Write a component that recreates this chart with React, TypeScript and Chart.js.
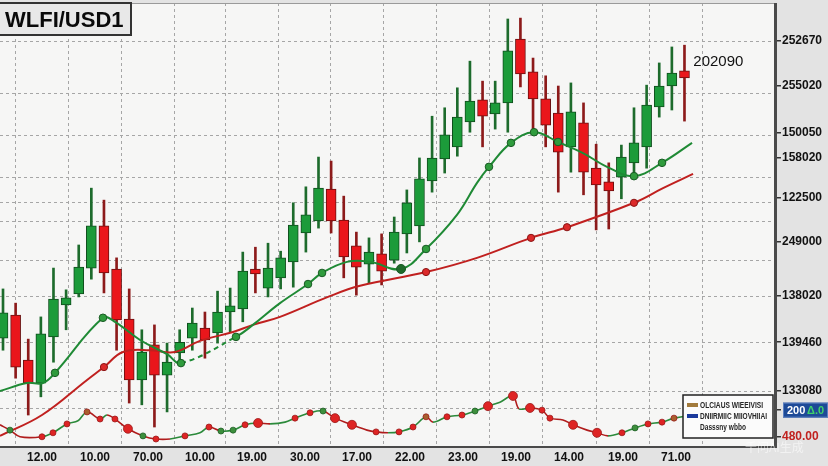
import React, { useEffect, useRef } from 'react';
import { Chart, registerables } from 'chart.js';

Chart.register(...registerables);

// ---- candle data (index 0..54) ----
const opens = [24.5, 29.7, 19.6, 14.4, 24.8, 32.0, 34.5, 40.3, 49.8, 40.1, 28.8, 15.1, 23.0, 16.2, 21.2, 24.5, 26.8, 25.7, 30.4, 31.1, 40.1, 35.8, 38.1, 41.7, 48.2, 50.9, 58.1, 51.1, 45.3, 41.2, 43.5, 42.1, 48.0, 49.8, 59.9, 64.9, 67.6, 73.2, 78.2, 75.0, 77.5, 91.9, 84.5, 78.4, 75.2, 67.6, 73.0, 62.8, 59.7, 60.8, 64.0, 67.6, 76.6, 81.3, 84.7];
const highs = [35.6, 32.4, 24.3, 29.3, 40.3, 35.4, 45.5, 58.3, 55.6, 42.6, 35.6, 26.4, 27.5, 23.4, 26.4, 31.3, 30.4, 35.1, 35.8, 43.9, 45.0, 45.9, 44.1, 55.0, 58.6, 65.3, 64.4, 56.5, 48.4, 47.1, 48.0, 51.8, 57.9, 65.1, 74.5, 76.4, 80.9, 86.9, 82.4, 82.4, 96.4, 96.6, 87.6, 83.6, 81.3, 82.0, 77.5, 68.2, 64.0, 68.0, 76.4, 81.5, 86.5, 90.1, 90.5];
const lows = [21.8, 15.5, 7.2, 11.3, 19.1, 26.4, 33.8, 37.8, 34.7, 21.8, 9.9, 9.5, 4.5, 7.9, 18.9, 21.8, 20.0, 23.4, 25.9, 28.2, 34.7, 33.8, 35.6, 36.0, 43.9, 49.3, 48.2, 38.1, 34.2, 36.9, 36.5, 41.4, 43.7, 46.2, 57.4, 61.7, 65.5, 70.9, 67.6, 71.6, 70.9, 81.1, 71.4, 67.6, 57.4, 61.9, 56.8, 48.9, 49.1, 55.9, 61.7, 62.8, 74.3, 75.9, 73.4];
const closes = [30.2, 18.0, 14.4, 25.5, 33.3, 33.6, 40.5, 49.8, 39.2, 28.6, 15.1, 21.4, 16.2, 19.1, 23.6, 27.9, 24.1, 30.4, 31.8, 39.6, 39.0, 40.3, 42.6, 50.0, 52.3, 58.3, 50.9, 42.8, 40.5, 43.9, 39.6, 48.4, 55.0, 60.4, 65.1, 70.3, 74.3, 77.9, 74.5, 77.5, 89.2, 84.0, 78.4, 72.5, 66.4, 75.5, 61.9, 59.0, 57.7, 65.3, 68.5, 77.0, 81.3, 84.2, 83.1];

// ---- fast (green) moving average ----
const greenMaX = [-0.24, 1.9, 3.17, 4.12, 7.92, 8.87, 10.86, 13.0, 14.1, 18.46, 19.8, 21.95, 24.17, 25.28, 27.26, 29.08, 31.54, 33.52, 35.97, 37.56, 38.51, 40.25, 42.08, 43.98, 45.96, 47.86, 50.0, 52.22, 54.6];
const greenMaY = [12.6, 14.4, 14.4, 16.7, 29.1, 28.2, 24.1, 20.9, 18.9, 24.8, 27.5, 32.4, 36.7, 39.2, 41.7, 41.7, 40.1, 44.6, 52.3, 59.5, 63.1, 68.5, 70.9, 68.7, 66.2, 63.1, 61.0, 64.0, 68.5];
const greenMaMarkers = [3, 4, 8, 9, 12, 13, 16, 17, 20, 21, 22, 23, 26, 27];

// ---- slow (red) moving average ----
const redMaX = [-0.24, 3.09, 6.66, 8.0, 9.51, 11.65, 13.63, 15.61, 18.23, 19.81, 21.95, 25.75, 28.29, 33.52, 37.56, 41.84, 44.69, 50.0, 52.3, 54.68];
const redMaY = [2.5, 7.2, 15.1, 18.0, 21.4, 21.8, 21.4, 23.9, 25.9, 27.5, 29.3, 33.8, 36.3, 39.4, 42.6, 47.1, 49.5, 55.0, 58.3, 61.5];
const redMaMarkers = [3, 13, 15, 16, 17];

// ---- lower oscillator ----
const oscX = [-0.24, 0.55, 1.35, 3.09, 3.96, 5.07, 5.94, 6.66, 7.69, 8.24, 8.87, 9.9, 11.09, 12.12, 13.23, 14.42, 15.61, 16.32, 17.27, 18.23, 19.18, 20.21, 21.16, 22.35, 23.14, 24.33, 25.36, 26.31, 27.65, 28.84, 29.56, 30.51, 31.38, 32.49, 33.52, 34.07, 35.18, 36.37, 37.4, 38.43, 39.38, 40.41, 40.89, 41.76, 42.71, 43.34, 44.37, 45.17, 46.28, 47.07, 47.94, 49.05, 50.08, 51.11, 52.22, 53.17, 55.5, 58.0];
const oscY = [5.0, 3.8, 2.3, 2.3, 3.2, 5.2, 5.9, 7.9, 6.3, 7.2, 6.3, 4.1, 2.5, 1.8, 1.8, 2.5, 3.2, 4.5, 3.6, 3.8, 5.0, 5.4, 5.2, 5.6, 6.5, 7.7, 8.1, 6.5, 5.0, 3.8, 3.4, 3.2, 3.4, 4.5, 6.8, 5.6, 6.8, 7.2, 8.1, 9.2, 10.1, 11.5, 8.6, 8.8, 8.3, 6.5, 6.1, 5.0, 3.8, 3.2, 2.5, 3.2, 4.3, 5.2, 5.6, 6.5, 7.5, 8.0];
const oscMarkers = [1, 3, 4, 5, 7, 8, 10, 11, 12, 13, 15, 17, 18, 19, 20, 21, 24, 25, 26, 27, 28, 30, 32, 33, 34, 36, 37, 38, 39, 41, 43, 44, 45, 47, 49, 51, 52, 53, 54, 55];
const oscBigMarkers = [11, 21, 27, 28, 39, 41, 43, 47, 49];
const oscGreenMarkers = [1, 12, 18, 19, 26, 38, 52];
const oscBrownMarkers = [7, 34, 55];

// ---- axes ----
const xTickPos = [3.09, 7.29, 11.49, 15.61, 19.73, 23.93, 28.05, 32.25, 36.45, 40.65, 44.85, 49.13, 53.33];
const xLabels = ['12.00', '10.00', '70.00', '10.00', '19.00', '30.00', '17.00', '22.00', '23.00', '19.00', '14.00', '19.00', '71.00'];
const gridLevels = [91.4, 79.7, 70.1, 60.8, 55.0, 50.9, 42.1, 33.8, 23.6, 12.4, 8.6];
const rightTickValues = [91.4, 81.3, 70.7, 65.1, 56.1, 46.2, 34.0, 23.6, 12.6, 8.3, 2.3];
const rightTickLabels = ['252670', '255020', '150050', '158020', '122500', '249000', '138020', '139460', '133080', '', '480.00'];
const boxTickIndex = 9;
const lastPriceText = '202090';

const FONT = "'Liberation Sans', Arial, sans-serif";

const GREEN_BODY = '#1c9b3a';
const GREEN_EDGE = '#0f4d1c';
const GREEN_WICK = '#1d6b2c';
const RED_BODY = '#ea161b';
const RED_EDGE = '#6a0f0f';
const RED_WICK = '#8c1a1a';

const overlayPlugin = {
  id: 'overlay',
  beforeDraw(chart: any) {
    const { ctx, chartArea: a, width, height } = chart;
    ctx.save();
    ctx.fillStyle = '#e3e3e3';
    ctx.fillRect(0, 0, width, height);
    ctx.fillStyle = '#f6f6f5';
    ctx.fillRect(a.left, a.top, a.right - a.left, a.bottom - a.top);
    ctx.restore();
  },
  afterDraw(chart: any) {
    const { ctx, chartArea: a } = chart;
    ctx.save();
    // frame
    ctx.strokeStyle = '#9a9a9a';
    ctx.lineWidth = 1;
    ctx.beginPath();
    ctx.moveTo(a.left, a.top + 0.5);
    ctx.lineTo(a.right, a.top + 0.5);
    ctx.stroke();
    ctx.strokeStyle = '#4a4a4a';
    ctx.lineWidth = 3;
    ctx.beginPath();
    ctx.moveTo(a.right - 0.5, a.top);
    ctx.lineTo(a.right - 0.5, a.bottom + 1);
    ctx.stroke();
    ctx.lineWidth = 2;
    ctx.beginPath();
    ctx.moveTo(a.left, a.bottom);
    ctx.lineTo(a.right, a.bottom);
    ctx.stroke();

    // title box
    ctx.fillStyle = '#e8e8e8';
    ctx.fillRect(0, 3, 131, 32);
    ctx.strokeStyle = '#333';
    ctx.lineWidth = 2;
    ctx.strokeRect(-1, 3, 132, 32);
    ctx.fillStyle = '#0a0a0a';
    ctx.font = `bold 22px ${FONT}`;
    ctx.textBaseline = 'alphabetic';
    ctx.textAlign = 'left';
    ctx.fillText('WLFI/USD1', 5, 27);

    // last price annotation
    const xs = chart.scales.x;
    const ys = chart.scales.y;
    ctx.font = `15px ${FONT}`;
    ctx.fillStyle = '#111';
    ctx.fillText(lastPriceText, xs.getPixelForValue(54.7), ys.getPixelForValue(85.8));

    // legend box
    const lx = 683, ly = 395, lw = 90, lh = 43;
    ctx.fillStyle = '#fbfbfb';
    ctx.fillRect(lx, ly, lw, lh);
    ctx.strokeStyle = '#222';
    ctx.lineWidth = 1.5;
    ctx.strokeRect(lx, ly, lw, lh);
    ctx.fillStyle = '#a27a3c';
    ctx.fillRect(lx + 4, ly + 8, 11, 4);
    ctx.fillStyle = '#1b3a9c';
    ctx.fillRect(lx + 4, ly + 19, 11, 4);
    ctx.fillStyle = '#262626';
    ctx.font = `bold 9px ${FONT}`;
    ctx.textBaseline = 'middle';
    ctx.fillText('OLCIAUS WIEEIVISI', lx + 17, ly + 10.5, 63);
    ctx.fillText('DNIIRMIIC MIIOVHIIAI', lx + 17, ly + 21.5, 67);
    ctx.fillText('Dasssny wbbo', lx + 17, ly + 32.5, 46);

    // boxed right-axis label
    const y2 = chart.scales.y2;
    const by = y2.getPixelForValue(rightTickValues[boxTickIndex]);
    ctx.fillStyle = '#1d4a97';
    ctx.fillRect(783, by - 7.5, 45, 15);
    ctx.strokeStyle = '#5b7fc0';
    ctx.lineWidth = 1;
    ctx.strokeRect(783.5, by - 7, 44, 14);
    ctx.font = `bold 11px ${FONT}`;
    ctx.fillStyle = '#ffffff';
    ctx.fillText('200', 787, by + 0.5);
    ctx.fillStyle = '#3fd16b';
    ctx.fillText('\u0394.0', 807, by + 0.5);

    // watermark
    ctx.font = `12px 'Noto Sans CJK SC', sans-serif`;
    ctx.fillStyle = 'rgba(255,255,255,0.55)';
    ctx.fillText('千问AI生成', 745, 447);
    ctx.restore();
  },
};

export default function App() {
  const ref = useRef<HTMLCanvasElement>(null);

  useEffect(() => {
    document.body.style.margin = '0';
    const canvas = ref.current;
    if (!canvas) return;
    const idx = opens.map((_, i) => i);
    const up = (i: number) => closes[i] >= opens[i];

    const chart = new Chart(canvas, {
      type: 'bar',
      data: {
        datasets: [
          {
            type: 'line',
            label: 'osc',
            data: oscX.map((x, i) => ({ x, y: oscY[i] })),
            borderWidth: 1.6,
            tension: 0.35,
            borderColor: '#b01c1c',
            segment: {
              borderColor: (c: any) => (c.p1.parsed.y > c.p0.parsed.y ? '#2b8a3a' : '#b01c1c'),
            },
            pointRadius: oscX.map((_, i) => (oscMarkers.includes(i) ? (oscBigMarkers.includes(i) ? 4.5 : 3) : 0)),
            pointBackgroundColor: oscX.map((_, i) =>
              oscGreenMarkers.includes(i) ? '#3c8f3c' : oscBrownMarkers.includes(i) ? '#a8602e' : '#de2424'),
            pointBorderColor: oscX.map((_, i) => (oscGreenMarkers.includes(i) ? '#1f5e26' : '#9a1a1a')),
            pointBorderWidth: 0.8,
            order: 0,
          } as any,
          {
            type: 'line',
            label: 'MA fast',
            data: greenMaX.map((x, i) => ({ x, y: greenMaY[i] })),
            borderColor: '#1f8a35',
            borderWidth: 2,
            tension: 0.4,
            segment: {
              borderDash: (c: any) => (c.p0DataIndex === 8 ? [5, 4] : undefined),
            },
            pointRadius: greenMaX.map((_, i) => (greenMaMarkers.includes(i) ? (i === 16 ? 4.5 : 3.8) : 0)),
            pointBackgroundColor: greenMaX.map((_, i) => (i === 16 ? '#1f6a2a' : '#2f9c3d')),
            pointBorderColor: '#195a24',
            pointBorderWidth: 1,
            order: 0,
          } as any,
          {
            type: 'line',
            label: 'MA slow',
            data: redMaX.map((x, i) => ({ x, y: redMaY[i] })),
            borderColor: '#c0201f',
            borderWidth: 2,
            tension: 0.4,
            pointRadius: redMaX.map((_, i) => (redMaMarkers.includes(i) ? 3.6 : 0)),
            pointBackgroundColor: '#dc2a2a',
            pointBorderColor: '#8a1515',
            pointBorderWidth: 1,
            order: 1,
          } as any,
          {
            type: 'bar',
            label: 'body',
            data: idx.map((i) => ({ x: i, y: [opens[i], closes[i]] })),
            backgroundColor: idx.map((i) => (up(i) ? GREEN_BODY : RED_BODY)),
            borderColor: idx.map((i) => (up(i) ? GREEN_EDGE : RED_EDGE)),
            borderWidth: 1,
            borderSkipped: false,
            barThickness: 10,
            grouped: false,
            order: 2,
          } as any,
          {
            type: 'bar',
            label: 'wick',
            data: idx.map((i) => ({ x: i, y: [lows[i], highs[i]] })),
            backgroundColor: idx.map((i) => (up(i) ? GREEN_WICK : RED_WICK)),
            borderWidth: 0,
            barThickness: 2,
            grouped: false,
            order: 3,
          } as any,
        ],
      },
      options: {
        responsive: false,
        animation: false,
        layout: { padding: { top: 3, left: 0, right: 0, bottom: 0 } },
        plugins: {
          legend: { display: false },
          tooltip: { enabled: false },
          title: { display: false },
        },
        scales: {
          x: {
            type: 'linear',
            min: -0.238,
            max: 61.252,
            position: 'bottom',
            offset: false,
            afterBuildTicks: (s: any) => {
              s.ticks = xTickPos.map((v) => ({ value: v }));
            },
            afterFit: (s: any) => {
              s.height = 19;
              s.paddingLeft = 0;
              s.paddingRight = 0;
            },
            ticks: {
              autoSkip: false,
              maxRotation: 0,
              padding: 3,
              color: '#111',
              font: { family: FONT, size: 12, weight: 'bold' },
              callback: (_v: any, i: number) => xLabels[i] ?? '',
            },
            grid: { color: '#a6a6a6', lineWidth: 1, drawTicks: false },
            border: { display: false, dash: [3, 3] },
          },
          y: {
            type: 'linear',
            min: 0,
            max: 100,
            position: 'right',
            afterBuildTicks: (s: any) => {
              s.ticks = gridLevels.map((v) => ({ value: v }));
            },
            afterFit: (s: any) => {
              s.width = 0;
              s.paddingTop = 0;
              s.paddingBottom = 0;
            },
            ticks: { display: false },
            grid: { color: '#a6a6a6', lineWidth: 1, drawTicks: false },
            border: { display: false, dash: [3, 3] },
          },
          y2: {
            type: 'linear',
            min: 0,
            max: 100,
            position: 'right',
            afterBuildTicks: (s: any) => {
              s.ticks = rightTickValues.map((v) => ({ value: v }));
            },
            afterFit: (s: any) => {
              s.width = 52;
              s.paddingTop = 0;
              s.paddingBottom = 0;
            },
            ticks: {
              autoSkip: false,
              padding: 1,
              color: (c: any) => (c.index === rightTickLabels.length - 1 ? '#c0221f' : '#111'),
              font: { family: FONT, size: 12, weight: 'bold' },
              callback: (_v: any, i: number) => rightTickLabels[i] ?? '',
            },
            grid: { drawOnChartArea: false, drawTicks: true, tickLength: 5, color: '#333', lineWidth: 1.5 },
            border: { display: false },
          },
        },
      } as any,
      plugins: [overlayPlugin],
    });
    return () => chart.destroy();
  }, []);

  return (
    <div style={{ width: 828, height: 466 }}>
      <canvas ref={ref} width={828} height={466} style={{ display: 'block' }} />
    </div>
  );
}
